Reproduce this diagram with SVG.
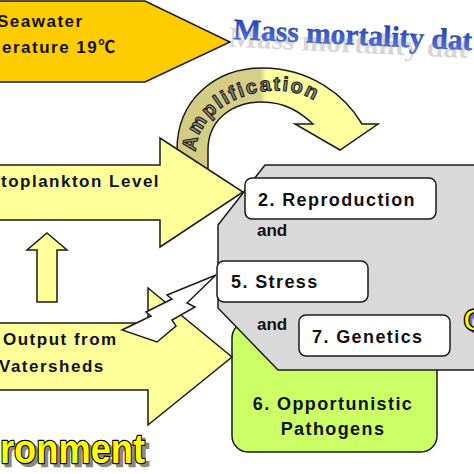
<svg xmlns="http://www.w3.org/2000/svg" width="474" height="474" viewBox="0 0 474 474">
<style>
.ln{stroke:#1a1a1a;stroke-width:1.5;stroke-linejoin:miter}
.pale{fill:#FFFF99}
.lbl{font-family:"Liberation Sans","Noto Sans CJK SC",sans-serif;font-weight:bold;font-size:17px;fill:#111;letter-spacing:1.5px}
.box{fill:#fff;stroke:#1a1a1a;stroke-width:1.5}
.bt{font-family:"Liberation Sans",sans-serif;font-weight:bold;font-size:18px;fill:#111;letter-spacing:1.4px}
.and{font-family:"Liberation Sans",sans-serif;font-weight:bold;font-size:17px;fill:#111}
.big{font-family:"Liberation Sans",sans-serif;font-weight:bold}
</style>
<defs>
<linearGradient id="ampg" gradientUnits="userSpaceOnUse" x1="177" y1="0" x2="380" y2="0">
<stop offset="0" stop-color="#D2CB80"/>
<stop offset="0.41" stop-color="#D6CF88"/>
<stop offset="0.44" stop-color="#FFFF9E"/>
<stop offset="1" stop-color="#FFFFA0"/>
</linearGradient>
<linearGradient id="blue" x1="0" y1="0" x2="0" y2="1">
<stop offset="0" stop-color="#1a37b0"/>
<stop offset="1" stop-color="#5a7ee6"/>
</linearGradient>
<path id="amp" d="M 196,152 C 198,92 302,66 334,120"/>
</defs>
<rect width="474" height="474" fill="#fff"/>

<g id="title">
<text x="229" y="47" transform="rotate(2.7 233 38)" font-family="'Liberation Serif',serif" font-weight="bold" font-size="29.5" fill="#a0a0a0" opacity="0.4">Mass mortality dat</text>
<text x="233" y="39" transform="rotate(2.7 233 38)" font-family="'Liberation Serif',serif" font-weight="bold" font-size="29.5" fill="url(#blue)" stroke="#1a2f90" stroke-width="0.3">Mass mortality dat</text>
</g>

<g id="node-green">
<rect x="232" y="322" width="205" height="130" rx="16" fill="#CCFF66" stroke="#1a1a1a" stroke-width="1.5"/>
<text class="bt" x="333" y="410" text-anchor="middle">6. Opportunistic</text>
<text class="bt" x="333" y="435" text-anchor="middle">Pathogens</text>
</g>

<g id="node-gray">
<polygon points="265,165 480,165 480,370 278,370 218,308 218,225" fill="#D9D9D9" stroke="#1a1a1a" stroke-width="1.5"/>
<text class="and" x="257" y="236">and</text>
<text class="and" x="257" y="330">and</text>
</g>

<g id="connectors">
<polygon id="seawater-arrow" class="ln" fill="#FFCC00" points="-5,1 145,1 230,42 145,82 -5,82"/>
<path id="amplification-arrow" class="ln" fill="url(#ampg)" d="M 177,162 L 177,150 C 177,100 215,68 262,68 C 310,68 345,95 362,124 L 378,124 L 340,150 L 295,124 L 313,124 C 300,112 285,102 262,102 C 232,102 208,120 208,150 L 208,175 Z"/>
<polygon id="phyto-arrow" class="ln pale" points="-5,165 160,165 160,138 243,192 160,247 160,220 -5,220"/>
<polygon id="up-arrow" class="ln pale" points="47,233 67,250 57,250 57,302 37,302 37,250 27,250"/>
<polygon id="output-arrow" class="ln pale" points="-5,323 148,323 148,288 232,357 148,425 148,390 -5,390"/>
<polygon id="bolt" class="ln" fill="#fff" points="216,275 167,295 172,299 146,312 151,316 122,330 157,342 176,326 172,320 195,307 187,303"/>
</g>

<g id="arrow-labels">
<text class="lbl" x="-3" y="27">Seawater</text>
<text class="lbl" x="2" y="53">erature 19℃</text>
<text class="big" font-size="20" letter-spacing="2" fill="#8a8a8a" stroke="#111" stroke-width="1"><textPath href="#amp" startOffset="0">Amplification</textPath></text>
<text class="lbl" x="1" y="187" letter-spacing="1.3">toplankton Level</text>
<text class="lbl" x="3" y="345">Output from</text>
<text class="lbl" x="-1" y="372">Vatersheds</text>
</g>

<g id="node-reproduction">
<rect class="box" x="245" y="178" width="191" height="41" rx="7"/>
<text class="bt" x="258" y="206">2. Reproduction</text>
</g>
<g id="node-stress">
<rect class="box" x="217" y="261" width="151" height="41" rx="7"/>
<text class="bt" x="231" y="288">5. Stress</text>
</g>
<g id="node-genetics">
<rect class="box" x="299" y="315" width="151" height="41" rx="7"/>
<text class="bt" x="312" y="343" letter-spacing="1.6">7. Genetics</text>
</g>

<g id="env-labels">
<text class="big" x="466" y="334" font-size="32" fill="#777">O</text>
<text class="big" x="463" y="331" font-size="32" fill="#FFFF00" stroke="#000" stroke-width="1.3">O</text>
<g transform="translate(0,463) scale(1,1.15)">
<text class="big" x="3" y="3" font-size="36" textLength="146" lengthAdjust="spacingAndGlyphs" fill="#888" stroke="#888" stroke-width="2">ronment</text>
<text class="big" x="0" y="0" font-size="36" textLength="145" lengthAdjust="spacingAndGlyphs" fill="#FFFF00" stroke="#000" stroke-width="2" paint-order="stroke" stroke-linejoin="round">ronment</text>
</g>
</g>
</svg>
